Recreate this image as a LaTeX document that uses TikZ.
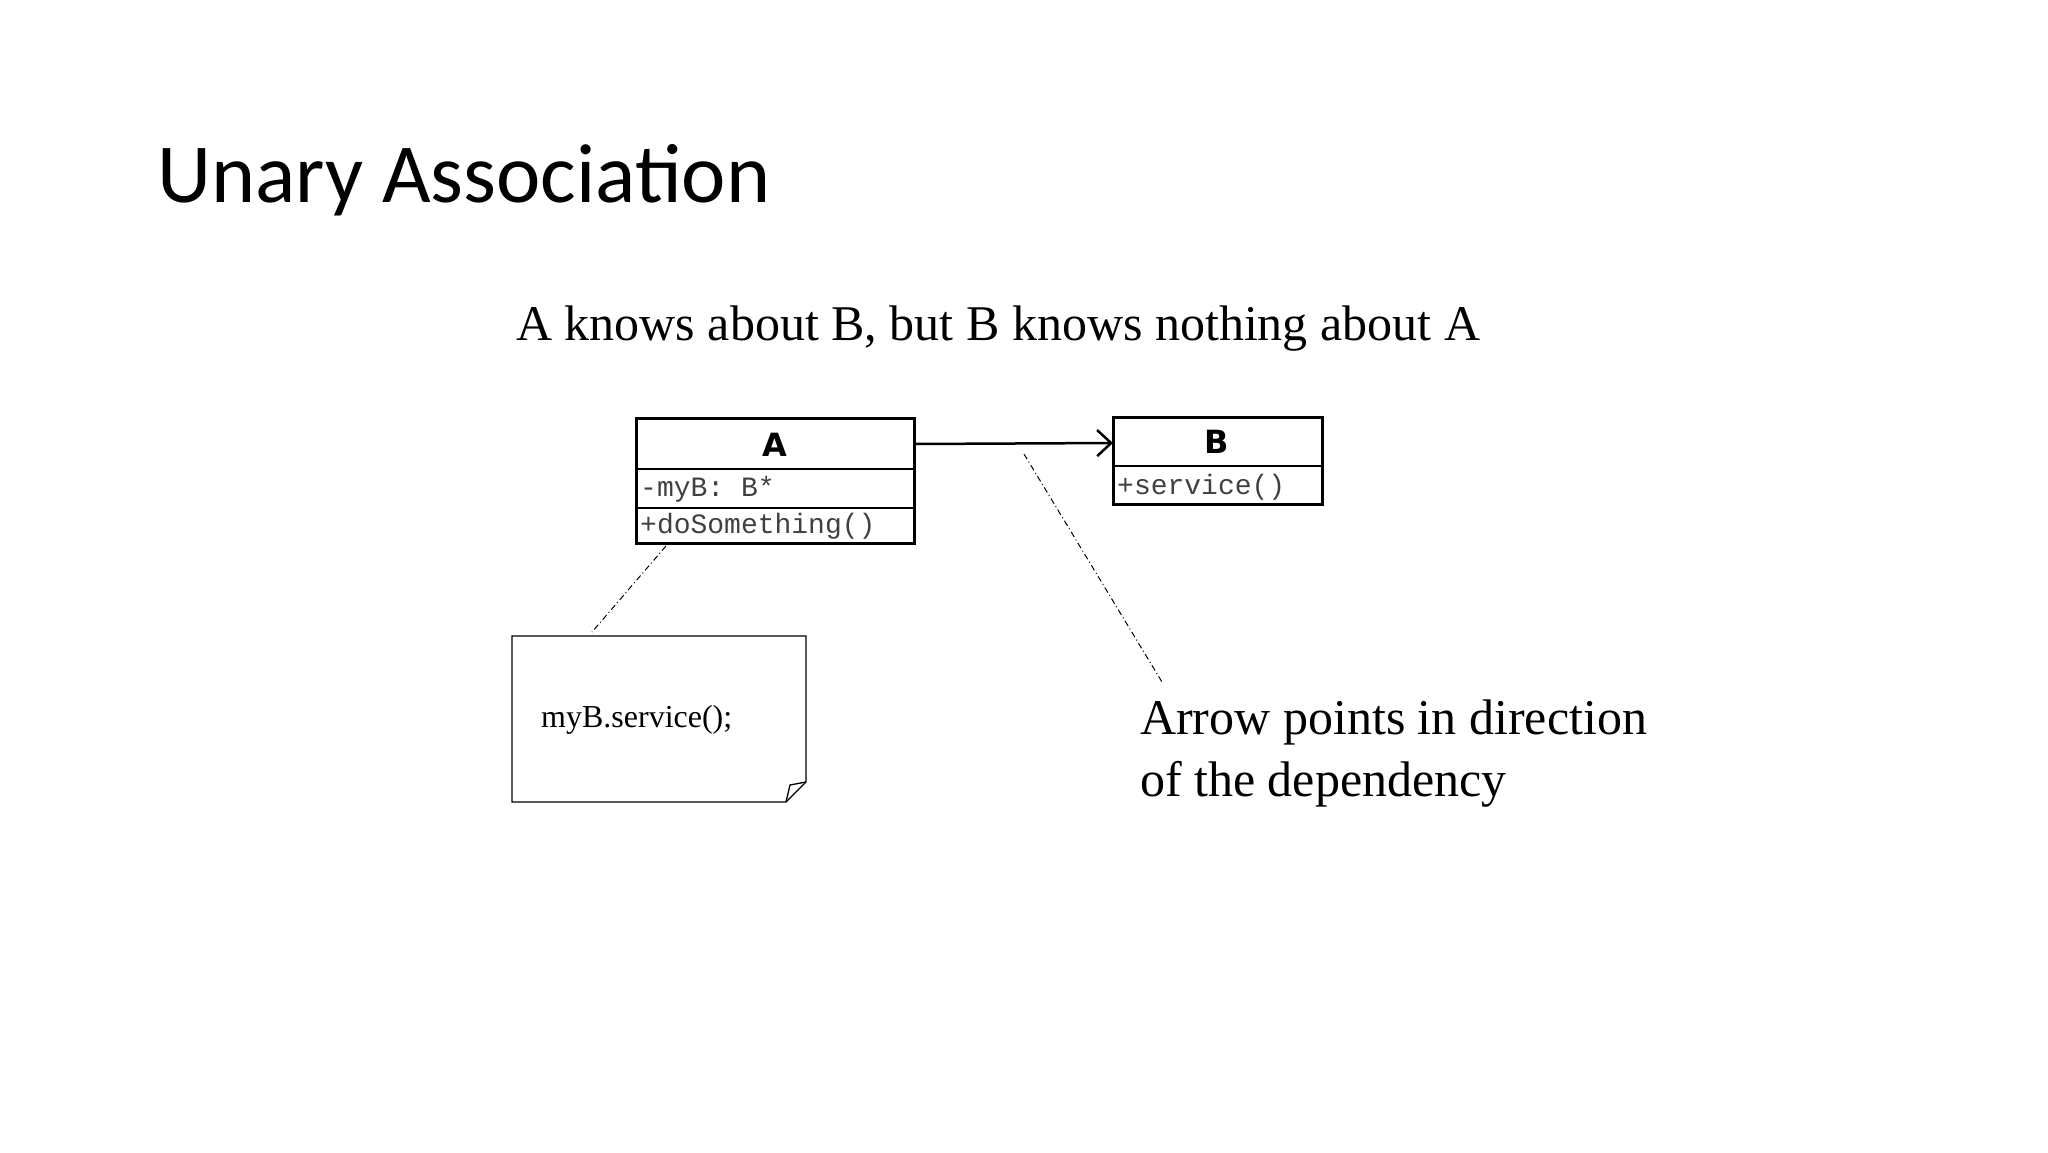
\documentclass[tikz,border=0pt]{standalone}
\usepackage{fontspec}
\setmainfont{Liberation Serif}
\newfontfamily\titlef{Carlito}
\newfontfamily\umlsans{DejaVu Sans}
\newfontfamily\umlmono{Liberation Mono}
\usetikzlibrary{arrows.meta}
\begin{document}
\begin{tikzpicture}[x=1pt,y=-1pt,
  box/.style={draw,line width=3pt},
  sep/.style={line width=2.5pt},
  mono/.style={font=\umlmono\fontsize{28}{28}\selectfont,text=black!75,anchor=west,inner sep=2pt},
  note/.style={draw,line width=1.3pt},
  dd/.style={line width=1pt,dash pattern=on 6pt off 3pt on 1pt off 3pt},
  serif/.style={font=\fontsize{50}{62}\selectfont,anchor=base west,inner sep=0}]
\useasboundingbox (0,0) rectangle (2048,1152);
\node[anchor=base west,inner sep=0,font=\titlef\fontsize{84}{84}\selectfont] (title) at (157,202) {Unary Association};
\node[serif] (sub) at (516,340) {A knows about B, but B knows nothing about A};
% class A
\draw[box] (636,418) rectangle (914,543);
\coordinate (Ar) at (914,444);
\draw[sep] (636,469) -- (914,469);
\draw[sep] (636,508) -- (914,508);
\node[font=\umlsans\bfseries\fontsize{32}{32}\selectfont] (A) at (775,445) {A};
\node[mono] (attr) at (638,489) {-myB: B*};
\node[mono] (op) at (638,526) {+doSomething()};
% class B
\draw[box] (1113,417) rectangle (1322,504);
\coordinate (Bl) at (1113,443);
\draw[sep] (1113,466) -- (1322,466);
\node[font=\umlsans\bfseries\fontsize{32}{32}\selectfont] (B) at (1217,442) {B};
\node[mono] (svc) at (1115,487) {+service()};
% association
\draw[line width=2.5pt,-{Straight Barb[length=14pt,width=26pt,line width=2.5pt]}] (Ar) -- (Bl);
% note
\draw[note] (512,636) -- (806,636) -- (806,782) -- (786,802) -- (512,802) -- cycle;
\draw[note] (806,782) -- (790,785) -- (786,802);
\node[anchor=base west,inner sep=0,font=\fontsize{32}{32}\selectfont] (nt) at (541,727) {myB.service();};
\coordinate (n1) at (666,546);
\coordinate (n2) at (592,632);
\draw[dd] (n1) -- (n2);
% arrow comment
\node[serif,align=left,anchor=north west] (cm) at (1140,700) {Arrow points in direction\\of the dependency};
\coordinate (c1) at (1024,454);
\coordinate (c2) at (1162,682);
\draw[dd] (c1) -- (c2);
\end{tikzpicture}
\end{document}
